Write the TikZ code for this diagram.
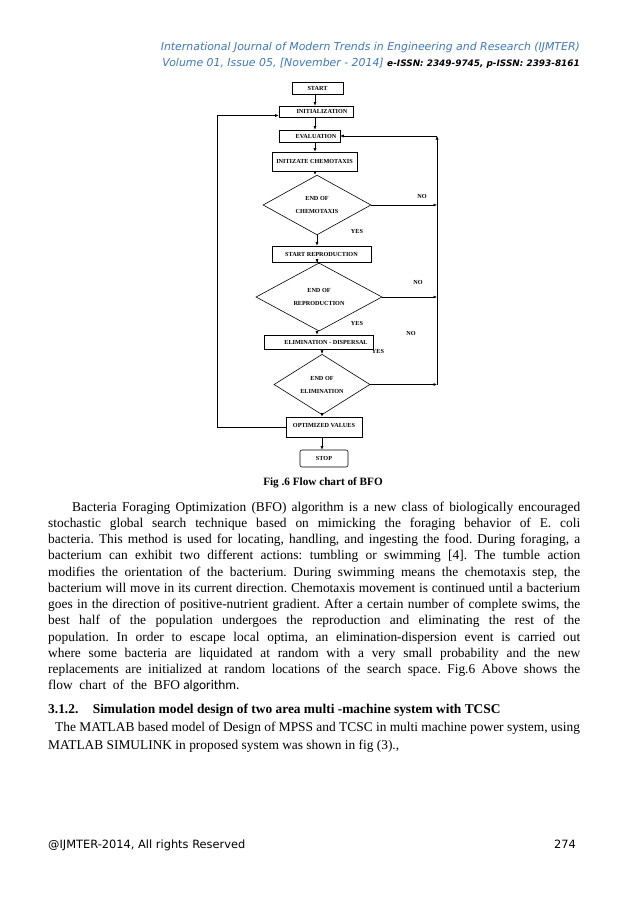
\documentclass[tikz,border=0pt]{standalone}
\usepackage{fontspec}
\setmainfont{Liberation Serif}
\newfontfamily\verdfont{DejaVu Sans}
\newfontfamily\calfont{Carlito}
\usepackage{xcolor}
\usetikzlibrary{positioning,arrows.meta,shapes.geometric,calc}
\definecolor{hdrblue}{RGB}{60,120,190}

\begin{document}
\begin{tikzpicture}[x=1pt, y=-1pt,
  box/.style={draw, line width=0.6pt, inner sep=0pt, font=\fontsize{6.2}{7}\selectfont\bfseries},
  dia/.style={draw, diamond, line width=0.6pt, inner sep=0pt, align=center, font=\fontsize{6.2}{13}\selectfont\bfseries},
  lbl/.style={inner sep=0pt, font=\fontsize{6.2}{7}\selectfont\bfseries},
  arr/.style={line width=0.6pt, -{Latex[length=3.5pt,width=3pt]}},
  body/.style={inner sep=0pt, font=\fontsize{13.4}{16.25}\selectfont}]

\useasboundingbox[fill=white] (0,0) rectangle (638,902);

% Page header
\node[anchor=base east, inner sep=0pt, text=hdrblue, font=\verdfont\fontsize{10.9}{13}\selectfont\itshape] (jname) at (580,50.5) {International Journal of Modern Trends in Engineering and Research (IJMTER)};
\node[anchor=base east, inner sep=0pt, font=\verdfont\fontsize{10.9}{13}\selectfont\itshape] (issn) at (580,66) {{\color{hdrblue}Volume 01, Issue 05, [November - 2014]} {\bfseries\fontsize{8.9}{11}\selectfont e-ISSN: 2349-9745, p-ISSN: 2393-8161}};

% Flow chart boxes
\node[box, minimum width=51, minimum height=12] (start) at (317.5,88) {START};
\node[box, minimum width=74, minimum height=11] (init) at (316,111.5) {\hspace*{12pt}INITIALIZATION};
\node[box, minimum width=61, minimum height=12] (eval) at (309.5,136) {\hspace*{13pt}EVALUATION};
\node[box, minimum width=85, minimum height=19] (chemo) at (314.5,161.5) {INITIZATE CHEMOTAXIS};
\node[dia, minimum width=108, minimum height=48] (d1) at (317,205) {END OF\\CHEMOTAXIS};
\node[box, minimum width=99, minimum height=16] (srep) at (321.5,254) {START REPRODUCTION};
\node[dia, minimum width=126, minimum height=46] (d2) at (319,297) {END OF\\REPRODUCTION};
\node[box, minimum width=109, minimum height=14] (elim) at (318.5,342) {\hspace*{15pt}ELIMINATION - DISPERSAL};
\node[dia, minimum width=96, minimum height=47] (d3) at (322,384.5) {END OF\\ELIMINATION};
\node[box, minimum width=76, minimum height=20] (opt) at (324,427) {\raisebox{3pt}{OPTIMIZED VALUES}};
\node[box, rounded corners=2pt, minimum width=48, minimum height=17] (stop) at (324,458.5) {STOP};

% Branch labels
\node[lbl] (yes1) at (357,231) {YES};
\node[lbl] (no1) at (422,196) {NO};
\node[lbl] (no2) at (418,282) {NO};
\node[lbl] (yes2) at (357,323) {YES};
\node[lbl] (no3) at (411,333) {NO};
\node[lbl] (yes3) at (378,351) {YES};

% Columns of the connectors
\coordinate (lx) at (217,0);
\coordinate (rx) at (437,0);
\coordinate (cA) at (315,0);
\coordinate (cB) at (317,0);
\coordinate (cC) at (322,0);

% Main flow
\foreach \a/\b/\c in {start/init/cA, init/eval/cA, eval/chemo/cA, chemo/d1/cA,
  d1/srep/cB, srep/d2/cB, d2/elim/cB, elim/d3/cC, d3/opt/cC, opt/stop/cC}
  \draw[arr] (\a.south -| \c) -- (\b.north -| \c);

% NO branches back to evaluation
\foreach \d in {d1,d2,d3}
  \draw[arr] (\d.east) -- (\d.east -| rx);
\draw[arr] (d3.east -| rx) -- (rx |- eval.east);
\draw[arr] (rx |- eval.east) -- (eval.east);

% Loop back to initialization
\draw[arr] (opt.west) -- (opt.west -| lx) |- ([yshift=-4pt]init.west);

% Caption and text
\node[anchor=base, inner sep=0pt, font=\bfseries\fontsize{11.2}{13}\selectfont] (cap) at (323,485) {Fig .6 Flow chart of BFO};

\node[body, anchor=base west, text width=532, align=justify] (para) at (48,511) {\frenchspacing\hspace*{24pt}Bacteria Foraging Optimization (BFO) algorithm is a new class of biologically encouraged\linebreak
stochastic global search technique based on mimicking the foraging behavior of E. coli\linebreak
bacteria. This method is used for locating, handling, and ingesting the food. During foraging, a\linebreak
bacterium can exhibit two different actions: tumbling or swimming [4]. The tumble action\linebreak
modifies the orientation of the bacterium. During swimming means the chemotaxis step, the\linebreak
bacterium will move in its current direction. Chemotaxis movement is continued until a bacterium\linebreak
goes in the direction of positive-nutrient gradient. After a certain number of complete swims, the\linebreak
best half of the population undergoes the reproduction and eliminating the rest of the\linebreak
population. In order to escape local optima, an elimination-dispersion event is carried out\linebreak
where some bacteria are liquidated at random with a very small probability and the new\linebreak
replacements are initialized at random locations of the search space. Fig.6 Above shows the\linebreak
flow~ chart~ of~ the~ BFO {\calfont algorithm.}};

\node[body, anchor=base west, font=\bfseries\fontsize{13.4}{16.25}\selectfont] (sec) at (48,713.5) {3.1.2.\hspace{10pt} Simulation model design of two area multi -machine system with TCSC};
\node[body, anchor=base west] (matl1) at (55,731.5) {The MATLAB based model of Design of MPSS and TCSC in multi machine power system, using};
\node[body, anchor=base west] (matl2) at (48,749.5) {MATLAB SIMULINK in proposed system was shown in fig (3).,};

% Page footer
\node[anchor=base west, inner sep=0pt, font=\verdfont\fontsize{11.4}{13}\selectfont] (copy) at (48,848) {@IJMTER-2014, All rights Reserved};
\node[anchor=base east, inner sep=0pt, font=\verdfont\fontsize{11.4}{13}\selectfont] (pg) at (576,848) {274};

\end{tikzpicture}
\end{document}
